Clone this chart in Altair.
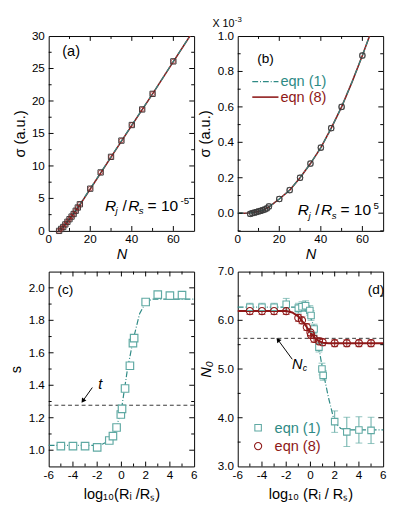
import altair as alt
import pandas as pd

W, H = 150, 201
FONT = "Liberation Sans"
TEAL = "#2e8a85"
TEAL_M = "#5fa9a3"
RED = "#8e1818"
DARK = "#3a3a3a"

# ---------------- data ----------------
# panel (a)  R_j/R_s = 1e-5
a_N = [5, 6, 7, 8, 9, 10, 11, 12, 13, 14, 15, 20, 25, 30, 35, 40, 45, 50, 60]
a_sig = [0.0, 0.3, 0.6, 1.0, 1.4, 1.8, 2.2, 2.6, 3.1, 3.6, 4.1, 6.5, 9.0, 11.4, 13.9, 16.3, 18.7, 21.1, 26.1]
a_lineN = [5, 7, 10, 15, 20, 30, 40, 50, 60, 70]
a_line1 = [0.0, 0.7, 1.9, 4.1, 6.5, 11.4, 16.3, 21.1, 26.1, 31.0]
a_line8 = [0.0, 0.6, 1.8, 4.0, 6.45, 11.35, 16.25, 21.1, 26.05, 31.0]

# panel (b)  R_j/R_s = 1e5  (x 1e-3)
b_N = [6, 7, 8, 9, 10, 11, 12, 13, 14, 15, 20, 25, 30, 35, 40, 45, 50, 60]
b_sig = [-0.004, 0.0, 0.003, 0.006, 0.01, 0.013, 0.017, 0.021, 0.027, 0.038, 0.08, 0.13, 0.2, 0.28, 0.37, 0.48, 0.6, 0.89]
b_lineN = [0, 2, 4, 6, 8, 10, 12, 15, 20, 25, 30, 35, 40, 45, 50, 55, 60, 65, 70]
b_line = [0, 0, 0, 0.002, 0.005, 0.01, 0.016, 0.035, 0.08, 0.13, 0.2, 0.28, 0.37, 0.48, 0.6, 0.74, 0.89, 1.05, 1.22]

# panel (c)
c_x = [-5, -4, -3, -2, -1, -0.7, -0.4, -0.05, 0.05, 0.3, 0.7, 0.95, 1.05, 2, 3, 4, 5]
c_s = [1.025, 1.025, 1.025, 1.017, 1.06, 1.087, 1.14, 1.22, 1.255, 1.38, 1.52, 1.66, 1.69, 1.913, 1.958, 1.952, 1.955]
c_lx = [-6, -2, -1.5, -1, -0.5, 0, 0.5, 1, 1.5, 2, 2.5, 6]
c_ly = [1.03, 1.03, 1.04, 1.06, 1.12, 1.25, 1.5, 1.69, 1.84, 1.91, 1.93, 1.93]
c_t = 1.277

# panel (d)
d_x1 = [-5, -4, -3, -2, -1, -0.7, -0.4, -0.05, 0.05, 0.3, 0.7, 0.95, 1.05, 2, 3, 4, 5]
d_y1 = [6.27, 6.27, 6.27, 6.33, 6.25, 6.28, 6.30, 6.20, 6.10, 5.82, 5.45, 5.00, 4.87, 3.92, 3.71, 3.75, 3.74]
d_e1 = [0.08, 0.08, 0.08, 0.12, 0.10, 0.10, 0.10, 0.10, 0.10, 0.10, 0.10, 0.12, 0.10, 0.22, 0.30, 0.27, 0.27]
d_x8 = [-5, -4, -3, -2, -1, -0.7, -0.3, 0, 0.05, 0.3, 0.7, 1, 2, 3, 4, 5]
d_y8 = [6.19, 6.19, 6.19, 6.19, 6.05, 6.0, 5.86, 5.75, 5.70, 5.62, 5.57, 5.55, 5.53, 5.53, 5.53, 5.53]
d_e8 = [0.07] * 16
d_l1x = [-6, -1, -0.5, 0, 0.5, 1, 1.5, 2, 2.5, 3, 6]
d_l1y = [6.27, 6.27, 6.22, 6.08, 5.7, 5.0, 4.4, 3.9, 3.78, 3.75, 3.75]
d_l8x = [-6, -2, -1.5, -1, -0.5, 0, 0.5, 1, 1.5, 6]
d_l8y = [6.19, 6.19, 6.16, 6.08, 5.93, 5.75, 5.6, 5.54, 5.53, 5.53]
d_Nc = 5.63

# tick labels
N_ticks = [0, 20, 40, 60]
N_labels = ["0", "20", "40", "60"]
a_yticks = [0, 5, 10, 15, 20, 25, 30]
a_ylabels = ["0", "5", "10", "15", "20", "25", "30"]
b_yticks = [0, 0.2, 0.4, 0.6, 0.8, 1.0]
b_ylabels = ["0.0", "0.2", "0.4", "0.6", "0.8", "1.0"]
lg_ticks = [-6, -4, -2, 0, 2, 4, 6]
lg_labels = ["-6", "-4", "-2", "0", "2", "4", "6"]
c_yticks = [1.0, 1.2, 1.4, 1.6, 1.8, 2.0]
c_ylabels = ["1.0", "1.2", "1.4", "1.6", "1.8", "2.0"]
d_yticks = [3, 4, 5, 6, 7]
d_ylabels = ["3.0", "4.0", "5.0", "6.0", "7.0"]


# ---------------- helpers ----------------
def frame_ticks(xmaj, xmin, ymaj, ymin, xsc, ysc):
    layers = []
    for vals, L in ((xmaj, 5), (xmin, 3)):
        df = pd.DataFrame({"v": vals})
        for y0, y1 in ((H, H - L), (0, L)):
            layers.append(alt.Chart(df).mark_rule(color="black", strokeWidth=1)
                          .encode(x=alt.X("v:Q", scale=xsc), y=alt.value(y0), y2=alt.value(y1)))
    for vals, L in ((ymaj, 5), (ymin, 3)):
        df = pd.DataFrame({"v": vals})
        for x0, x1 in ((0, L), (W, W - L)):
            layers.append(alt.Chart(df).mark_rule(color="black", strokeWidth=1)
                          .encode(y=alt.Y("v:Q", scale=ysc), x=alt.value(x0), x2=alt.value(x1)))
    return layers


def tick_labels(xv, xl, yv, yl, xsc, ysc):
    xdf = pd.DataFrame({"v": xv, "lab": xl})
    ydf = pd.DataFrame({"v": yv, "lab": yl})
    return [
        alt.Chart(xdf).mark_text(font=FONT, fontSize=12, baseline="top", align="center", color="black")
        .encode(x=alt.X("v:Q", scale=xsc), y=alt.value(H + 4), text="lab:N"),
        alt.Chart(ydf).mark_text(font=FONT, fontSize=12, baseline="middle", align="right", color="black")
        .encode(y=alt.Y("v:Q", scale=ysc), x=alt.value(-4), text="lab:N"),
    ]


def txt(s, x, y, size=14, color="black", style="normal", align="left", baseline="alphabetic"):
    return alt.Chart(pd.DataFrame({"a": [0]})).mark_text(
        text=s, font=FONT, fontSize=size, fontStyle=style, color=color, align=align, baseline=baseline
    ).encode(x=alt.value(x), y=alt.value(y))


def ratio_text(x, y, expo):
    return [
        txt("R", x, y, 16, style="italic"),
        txt("j", x + 11, y + 4, 10, style="italic"),
        txt("/", x + 18, y, 16),
        txt("R", x + 24, y, 16, style="italic"),
        txt("s", x + 35, y + 4, 10, style="italic"),
        txt("= 10", x + 44, y, 16),
        txt(expo, x + 78, y - 7, 10),
    ]


def arrow(df, color="black", angle=0):
    shaft = alt.Chart(df).mark_line(color=color, strokeWidth=1).encode(
        x=alt.X("x:Q"), y=alt.Y("y:Q"), order="o:Q")
    head = alt.Chart(df[df.o == 1]).mark_point(shape="triangle-up", filled=True, color=color, size=30,
                                              angle=angle, opacity=1).encode(
        x=alt.X("x:Q"), y=alt.Y("y:Q"))
    return [shaft, head]


AX = dict(ticks=False, domain=False, grid=False, labels=False,
          titleFont=FONT, titleFontWeight="normal", titleColor="black", titleFontSize=15)

# ---------------- panel (a) ----------------
xa = alt.Scale(domain=[0, 70], nice=False, zero=False)
ya = alt.Scale(domain=[0, 30], nice=False, zero=False)
a_pts = pd.DataFrame({"N": a_N, "sig": a_sig})
a_lines = pd.DataFrame({"N": a_lineN, "l1": a_line1, "l8": a_line8})

pa_base = alt.Chart(a_lines).mark_line(color=RED, strokeWidth=1.6, clip=True).encode(
    x=alt.X("N:Q", scale=xa, axis=alt.Axis(title="N", titleFontStyle="italic", titlePadding=17, **AX)),
    y=alt.Y("l8:Q", scale=ya, axis=alt.Axis(title="σ (a.u.)", titlePadding=22, **AX)))
pa_l1 = alt.Chart(a_lines).mark_line(color=TEAL, strokeWidth=1.2, strokeDash=[6, 2, 1, 2], clip=True).encode(
    x=alt.X("N:Q", scale=xa), y=alt.Y("l1:Q", scale=ya))
pa_sq = alt.Chart(a_pts).mark_point(shape="square", size=30, color=DARK, strokeWidth=1, opacity=1).encode(
    x=alt.X("N:Q", scale=xa), y=alt.Y("sig:Q", scale=ya))
pa_ci = alt.Chart(a_pts).mark_point(shape="circle", size=22, color=RED, strokeWidth=0.8, opacity=0.8).encode(
    x=alt.X("N:Q", scale=xa), y=alt.Y("sig:Q", scale=ya))

pa = alt.layer(
    pa_base, pa_l1, pa_sq, pa_ci,
    *frame_ticks([20, 40, 60], [10, 30, 50], [5, 10, 15, 20, 25], [2.5, 7.5, 12.5, 17.5, 22.5, 27.5], xa, ya),
    *tick_labels(N_ticks, N_labels, a_yticks, a_ylabels, xa, ya),
    txt("(a)", 14, 21, 15),
    *ratio_text(58, 180, "-5"),
).properties(width=W, height=H)

# ---------------- panel (b) ----------------
xb = alt.Scale(domain=[0, 70], nice=False, zero=False)
yb = alt.Scale(domain=[-0.1, 1.0], nice=False, zero=False)
b_pts = pd.DataFrame({"N": b_N, "sig": b_sig})
b_lines = pd.DataFrame({"N": b_lineN, "l": b_line})

pb_base = alt.Chart(b_lines).mark_line(color=RED, strokeWidth=1.6, clip=True).encode(
    x=alt.X("N:Q", scale=xb, axis=alt.Axis(title="N", titleFontStyle="italic", titlePadding=17, **AX)),
    y=alt.Y("l:Q", scale=yb, axis=alt.Axis(title="σ (a.u.)", titlePadding=26, **AX)))
pb_l1 = alt.Chart(b_lines).mark_line(color=TEAL, strokeWidth=1.2, strokeDash=[6, 2, 1, 2], clip=True).encode(
    x=alt.X("N:Q", scale=xb), y=alt.Y("l:Q", scale=yb))
pb_sq = alt.Chart(b_pts).mark_point(shape="square", size=26, color=DARK, strokeWidth=0.8, opacity=0.9).encode(
    x=alt.X("N:Q", scale=xb), y=alt.Y("sig:Q", scale=yb))
pb_ci = alt.Chart(b_pts).mark_point(shape="circle", size=34, color=DARK, strokeWidth=1, opacity=1).encode(
    x=alt.X("N:Q", scale=xb), y=alt.Y("sig:Q", scale=yb))

pb = alt.layer(
    pb_base, pb_l1, pb_sq, pb_ci,
    *frame_ticks([20, 40, 60], [10, 30, 50], [0, 0.2, 0.4, 0.6, 0.8], [-0.1, 0.1, 0.3, 0.5, 0.7, 0.9], xb, yb),
    *tick_labels(N_ticks, N_labels, b_yticks, b_ylabels, xb, yb),
    txt("(b)", 20, 28, 14),
    alt.Chart(pd.DataFrame({"a": [0]})).mark_rule(color=TEAL, strokeWidth=1.2, strokeDash=[6, 2, 1, 2]).encode(
        x=alt.value(15), x2=alt.value(42), y=alt.value(47)),
    txt("eqn (1)", 44, 52, 15, color=TEAL),
    alt.Chart(pd.DataFrame({"a": [0]})).mark_rule(color=RED, strokeWidth=1.6).encode(
        x=alt.value(15), x2=alt.value(42), y=alt.value(63)),
    txt("eqn (8)", 44, 68, 15, color=RED),
    *ratio_text(62, 185, "5"),
    txt("X 10", -26, -9, 11),
    txt("-3", -3, -14, 8),
).properties(width=W, height=H)

# ---------------- panel (c) ----------------
xc = alt.Scale(domain=[-6, 6], nice=False, zero=False)
yc = alt.Scale(domain=[0.9, 2.1], nice=False, zero=False)
c_pts = pd.DataFrame({"x": c_x, "s": c_s})
c_line = pd.DataFrame({"x": c_lx, "s": c_ly})

pc_line = alt.Chart(c_line).mark_line(color=TEAL, strokeWidth=1.2, strokeDash=[6, 2, 1, 2]).encode(
    x=alt.X("x:Q", scale=xc, axis=alt.Axis(title="log₁₀(Rᵢ /Rₛ)", titlePadding=21, **AX)),
    y=alt.Y("s:Q", scale=yc, axis=alt.Axis(title="s", titlePadding=26, **AX)))
pc_t = alt.Chart(pd.DataFrame({"t": [c_t]})).mark_rule(color="#333333", strokeWidth=1, strokeDash=[4, 3]).encode(
    y=alt.Y("t:Q", scale=yc))
pc_pts = alt.Chart(c_pts).mark_point(shape="square", size=60, color=TEAL_M, strokeWidth=1.2, opacity=1,
                                     fill="white", filled=False).encode(
    x=alt.X("x:Q", scale=xc), y=alt.Y("s:Q", scale=yc))
c_arrow = pd.DataFrame({"x": [-2.4, -3.18], "y": [1.386, 1.304], "o": [0, 1]})

pc = alt.layer(
    pc_line, pc_t, pc_pts,
    *arrow(c_arrow, angle=215),
    *frame_ticks([-4, -2, 0, 2, 4], [-5, -3, -1, 1, 3, 5], [1.0, 1.2, 1.4, 1.6, 1.8, 2.0],
                 [1.1, 1.3, 1.5, 1.7, 1.9], xc, yc),
    *tick_labels(lg_ticks, lg_labels, c_yticks, c_ylabels, xc, yc),
    txt("(c)", 9, 23, 14),
    txt("t", 51, 121, 15, style="italic"),
).properties(width=W, height=H)

# ---------------- panel (d) ----------------
xd = alt.Scale(domain=[-6, 6], nice=False, zero=False)
yd = alt.Scale(domain=[3.0, 7.0], nice=False, zero=False)
d1 = pd.DataFrame({"x": d_x1, "y": d_y1, "lo": [a - b for a, b in zip(d_y1, d_e1)],
                   "hi": [a + b for a, b in zip(d_y1, d_e1)]})
d8 = pd.DataFrame({"x": d_x8, "y": d_y8, "lo": [a - b for a, b in zip(d_y8, d_e8)],
                   "hi": [a + b for a, b in zip(d_y8, d_e8)]})
dl1 = pd.DataFrame({"x": d_l1x, "y": d_l1y})
dl8 = pd.DataFrame({"x": d_l8x, "y": d_l8y})


def errbars(df, color):
    X = alt.X("x:Q", scale=xd)
    return [
        alt.Chart(df).mark_rule(color=color, strokeWidth=1).encode(
            x=X, y=alt.Y("lo:Q", scale=yd), y2="hi:Q"),
        alt.Chart(df).mark_tick(orient="horizontal", size=7, thickness=1, color=color).encode(
            x=X, y=alt.Y("lo:Q", scale=yd)),
        alt.Chart(df).mark_tick(orient="horizontal", size=7, thickness=1, color=color).encode(
            x=X, y=alt.Y("hi:Q", scale=yd)),
    ]


pd_l1 = alt.Chart(dl1).mark_line(color=TEAL, strokeWidth=1.2, strokeDash=[6, 2, 1, 2]).encode(
    x=alt.X("x:Q", scale=xd, axis=alt.Axis(title="log₁₀ (Rᵢ / Rₛ)", titlePadding=21, **AX)),
    y=alt.Y("y:Q", scale=yd, axis=alt.Axis(title="N₀", titleFontStyle="italic", titlePadding=25, **AX)))
pd_l8 = alt.Chart(dl8).mark_line(color=RED, strokeWidth=2).encode(
    x=alt.X("x:Q", scale=xd), y=alt.Y("y:Q", scale=yd))
pd_nc = alt.Chart(pd.DataFrame({"t": [d_Nc]})).mark_rule(color="#333333", strokeWidth=1, strokeDash=[4, 3]).encode(
    y=alt.Y("t:Q", scale=yd))
pd_sq = alt.Chart(d1).mark_point(shape="square", size=45, color=TEAL_M, strokeWidth=1.1, opacity=1,
                                 fill="white").encode(
    x=alt.X("x:Q", scale=xd), y=alt.Y("y:Q", scale=yd))
pd_ci = alt.Chart(d8).mark_point(shape="circle", size=55, color=RED, strokeWidth=1.1, opacity=1).encode(
    x=alt.X("x:Q", scale=xd), y=alt.Y("y:Q", scale=yd))
d_arrow = pd.DataFrame({"x": [-1.5, -2.68], "y": [5.2, 5.6], "o": [0, 1]})

pdd = alt.layer(
    pd_l1, pd_nc, *errbars(d1, TEAL_M), *errbars(d8, RED), pd_l8, pd_sq, pd_ci,
    *arrow(d_arrow, angle=322),
    *frame_ticks([-4, -2, 0, 2, 4], [-5, -3, -1, 1, 3, 5], [4, 5, 6], [3.5, 4.5, 5.5, 6.5], xd, yd),
    *tick_labels(lg_ticks, lg_labels, d_yticks, d_ylabels, xd, yd),
    txt("(d)", 134, 23, 14),
    txt("N", 56, 100, 15, style="italic"),
    txt("c", 67, 103, 9, style="italic"),
    alt.Chart(pd.DataFrame({"a": [0]})).mark_point(shape="square", size=45, color=TEAL_M, strokeWidth=1.1,
                                                   opacity=1).encode(x=alt.value(21), y=alt.value(161)),
    txt("eqn (1)", 38, 166, 15, color=TEAL),
    alt.Chart(pd.DataFrame({"a": [0]})).mark_point(shape="circle", size=55, color=RED, strokeWidth=1.1,
                                                   opacity=1).encode(x=alt.value(21), y=alt.value(180)),
    txt("eqn (8)", 38, 185, 15, color=RED),
).properties(width=W, height=H)

chart = alt.concat(pa, pb, pc, pdd, columns=2, spacing={"row": 42, "column": 45}, bounds="flush").properties(
    padding={"left": 0, "top": 0, "right": 0, "bottom": 0}
).configure_view(stroke="black", strokeWidth=1).configure_axis(**AX)

chart.save("out.html", embed_options={"renderer": "svg", "actions": False})
